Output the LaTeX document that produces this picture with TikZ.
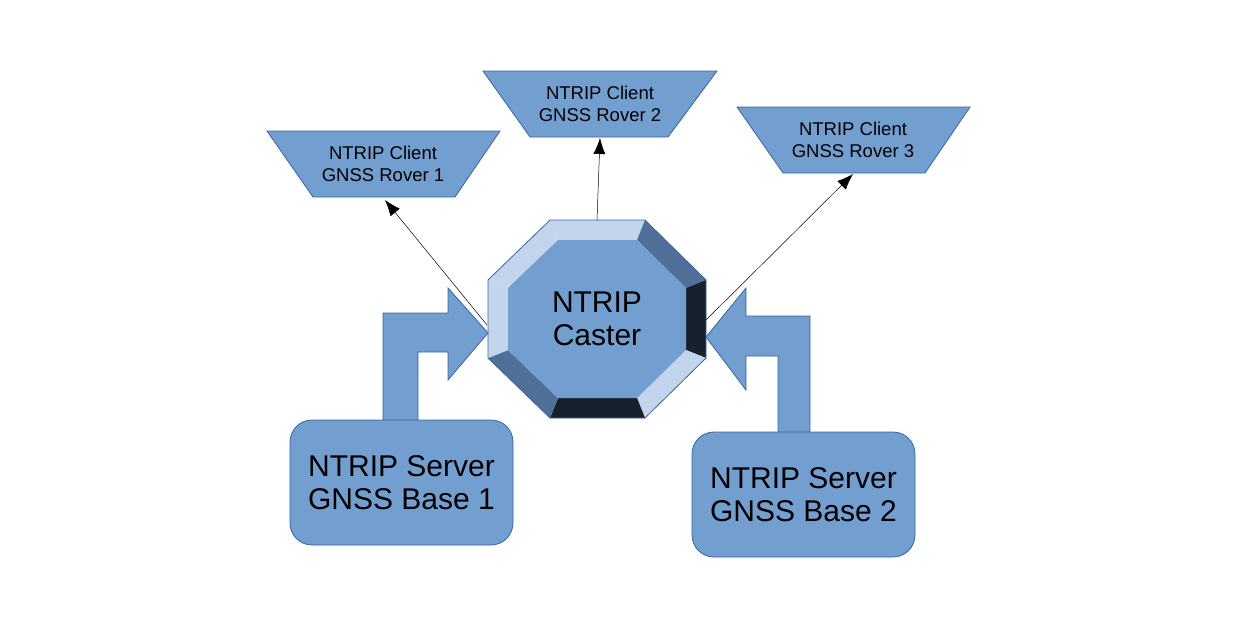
\documentclass[tikz,border=0pt]{standalone}
\usepackage{fontspec}
\setmainfont{Liberation Sans}
\begin{document}
\begin{tikzpicture}[x=1pt,y=-1pt,
  blu/.style={fill=c1,draw=c2,line width=0.8pt},
  txts/.style={font=\fontsize{18.5}{22}\selectfont,align=center},
  txtl/.style={font=\fontsize{30}{33}\selectfont,align=center},
  arr/.style={-{Latex[length=16pt,width=12pt]},line width=0.5pt}]
\usetikzlibrary{arrows.meta}
\definecolor{c1}{HTML}{729FCF}
\definecolor{c2}{HTML}{3465A4}
\definecolor{lt}{HTML}{C3D5EC}
\definecolor{dk}{HTML}{50709A}
\definecolor{dd}{HTML}{17202D}
\useasboundingbox (0,0) rectangle (1253,640);
% rovers
\draw[blu] (267,131)--(500,131)--(455,197)--(313,197)--cycle;
\node[txts] (r1) at (383,164) {NTRIP Client\\GNSS Rover 1};
\draw[blu] (483,71)--(717,71)--(668,137)--(530,137)--cycle;
\node[txts] (r2) at (600,104) {NTRIP Client\\GNSS Rover 2};
\draw[blu] (737,107)--(970,107)--(925,173)--(783,173)--cycle;
\node[txts] (r3) at (853,140) {NTRIP Client\\GNSS Rover 3};
\coordinate (r1b) at (385,200);
\coordinate (r2b) at (600,138);
\coordinate (r3b) at (853,174);
% caster
\coordinate (o1) at (550,220); \coordinate (o2) at (645,220);
\coordinate (o3) at (706,280); \coordinate (o4) at (706,358);
\coordinate (o5) at (645,418); \coordinate (o6) at (550,418);
\coordinate (o7) at (488,358); \coordinate (o8) at (488,280);
\coordinate (i1) at (558,240); \coordinate (i2) at (637,240);
\coordinate (i3) at (686,288); \coordinate (i4) at (686,350);
\coordinate (i5) at (637,398); \coordinate (i6) at (558,398);
\coordinate (i7) at (508,350); \coordinate (i8) at (508,288);
\fill[lt] (o1)--(o2)--(i2)--(i1)--cycle;
\fill[dk] (o2)--(o3)--(i3)--(i2)--cycle;
\fill[dd] (o3)--(o4)--(i4)--(i3)--cycle;
\fill[lt] (o4)--(o5)--(i5)--(i4)--cycle;
\fill[dd] (o5)--(o6)--(i6)--(i5)--cycle;
\fill[dk] (o6)--(o7)--(i7)--(i6)--cycle;
\fill[lt] (o7)--(o8)--(i8)--(i7)--cycle;
\fill[lt] (o8)--(o1)--(i1)--(i8)--cycle;
\fill[c1] (i1)--(i2)--(i3)--(i4)--(i5)--(i6)--(i7)--(i8)--cycle;
\draw[c2,line width=0.8pt] (o1)--(o2)--(o3)--(o4)--(o5)--(o6)--(o7)--(o8)--cycle;
\node[txtl] (c) at (597,319) {NTRIP\\Caster};
\coordinate (cl) at (487,325);
\coordinate (ct) at (597,220);
\coordinate (cr) at (706,320);
\draw[arr] (cl)--(r1b);
\draw[arr] (ct)--(r2b);
\draw[arr] (cr)--(r3b);
% bent arrows
\draw[blu] (383,420)--(383,313)--(448,313)--(448,288)--(488,333)--(448,380)--(448,352)--(418,352)--(418,420);
\draw[blu] (778,432)--(778,356)--(746,356)--(746,390)--(706,337)--(746,288)--(746,316)--(810,316)--(810,432);
% servers
\node[blu,rounded corners=22pt,minimum width=223pt,minimum height=125pt,txtl] (s1) at (401.5,482.5) {NTRIP Server\\GNSS Base 1};
\node[blu,rounded corners=22pt,minimum width=223pt,minimum height=125pt,txtl] (s2) at (803.5,494.5) {NTRIP Server\\GNSS Base 2};
\end{tikzpicture}
\end{document}
